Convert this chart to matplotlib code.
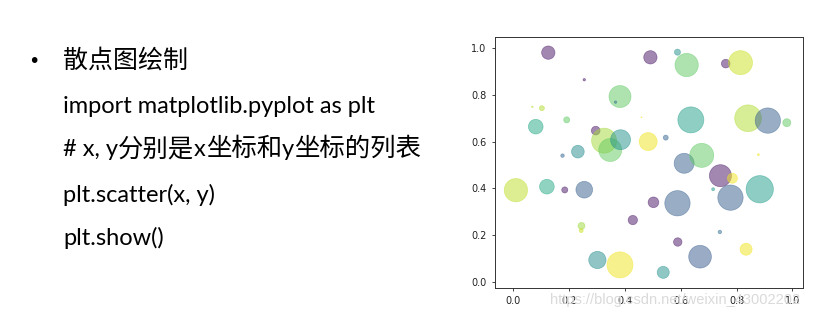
import matplotlib
matplotlib.use("Agg")
import matplotlib.pyplot as plt
import numpy as np

plt.rcParams['font.family'] = ['Noto Sans CJK SC', 'DejaVu Sans']

# ---- slide text ----
title_text = "散点图绘制"
code_lines = [
    "import matplotlib.pyplot as plt",
    "# x, y分别是x坐标和y坐标的列表",
    "plt.scatter(x, y)",
    "plt.show()",
]

# ---- scatter data ----
x_vals = [0.125, 0.254, 0.068, 0.102, 0.191, 0.080, 0.295, 0.176, 0.231, 0.325,
          0.347, 0.384, 0.382, 0.366, 0.491, 0.588, 0.621, 0.459, 0.636, 0.483,
          0.546, 0.612, 0.675, 0.761, 0.814, 0.841, 0.912, 0.980, 0.878, 0.009,
          0.120, 0.184, 0.254, 0.244, 0.243, 0.301, 0.382, 0.428, 0.502, 0.588,
          0.589, 0.537, 0.669, 0.742, 0.785, 0.716, 0.778, 0.883, 0.740, 0.834]
y_vals = [0.981, 0.865, 0.749, 0.743, 0.693, 0.664, 0.647, 0.540, 0.557, 0.604,
          0.564, 0.608, 0.793, 0.769, 0.961, 0.983, 0.928, 0.704, 0.693, 0.600,
          0.617, 0.507, 0.541, 0.934, 0.938, 0.700, 0.690, 0.681, 0.544, 0.392,
          0.407, 0.393, 0.394, 0.239, 0.219, 0.093, 0.072, 0.264, 0.340, 0.336,
          0.170, 0.040, 0.107, 0.454, 0.443, 0.396, 0.360, 0.396, 0.213, 0.139]
color_vals = [0.05, 0.05, 0.88, 0.88, 0.75, 0.60, 0.05, 0.32, 0.48, 0.86,
              0.76, 0.50, 0.75, 0.35, 0.05, 0.50, 0.75, 0.98, 0.56, 0.98,
              0.32, 0.30, 0.75, 0.05, 0.92, 0.88, 0.30, 0.75, 0.98, 0.90,
              0.60, 0.05, 0.30, 0.85, 0.92, 0.48, 0.98, 0.05, 0.05, 0.30,
              0.05, 0.50, 0.28, 0.05, 0.98, 0.55, 0.30, 0.55, 0.35, 0.98]
area_vals = [92, 3.2, 1.2, 13, 19, 112, 39, 6.4, 84, 324,
             274, 207, 251, 3.2, 92, 19, 281, 0.5, 350, 168,
             13, 207, 299, 39, 299, 370, 332, 33, 2.1, 281,
             112, 19, 145, 25, 8.3, 155, 350, 45, 59, 332,
             37, 75, 267, 251, 52, 4.7, 332, 386, 6.4, 75]

xticks = [0.0, 0.2, 0.4, 0.6, 0.8, 1.0]
yticks = [0.0, 0.2, 0.4, 0.6, 0.8, 1.0]

W, H = 831, 322
fig = plt.figure(figsize=(W / 100, H / 100), dpi=100)
fig.patch.set_facecolor('white')
renderer = fig.canvas.get_renderer()

LATIN = ['Lato', 'DejaVu Sans']
CJK = ['Noto Sans CJK SC', 'DejaVu Sans']


def is_cjk(ch):
    return '\u4e00' <= ch <= '\u9fff'


def runs(s):
    out = []
    for ch in s:
        kind = is_cjk(ch)
        if out and out[-1][1] == kind:
            out[-1][0] += ch
        else:
            out.append([ch, kind])
    return out


def draw_line(s, x_px, base_px, latin_size, cjk_size):
    x = x_px
    for seg, kind in runs(s):
        t = fig.text(x / W, 1 - base_px / H, seg,
                     fontsize=cjk_size if kind else latin_size,
                     family=CJK if kind else LATIN,
                     va='baseline', ha='left', color='black')
        bb = t.get_window_extent(renderer)
        x = bb.x1


# bullet and title
fig.text(28 / W, 1 - 67 / H, "•", fontsize=14, va='baseline', ha='left',
         color='black', family=['DejaVu Sans'])
draw_line(title_text, 63, 68, 17, 18)
baselines = [113, 156, 201.5, 245]
for line, b in zip(code_lines, baselines):
    draw_line(line, 63, b, 17, 18.3)

ax = fig.add_axes([495 / W, 1 - 288 / H, 308 / W, 251 / H])
ax.scatter(x_vals, y_vals, s=area_vals, c=color_vals, cmap='viridis',
           vmin=0, vmax=1, alpha=0.5, linewidths=0.5)
ax.set_xlim(-0.066, 1.038)
ax.set_ylim(-0.027, 1.048)
ax.set_xticks(xticks)
ax.set_yticks(yticks)
ax.set_xticklabels([f"{t:.1f}" for t in xticks])
ax.set_yticklabels([f"{t:.1f}" for t in yticks])
ax.tick_params(labelsize=7, length=2.5, width=0.6, pad=3.5, colors='#222222')
for lab in ax.get_xticklabels() + ax.get_yticklabels():
    lab.set_family(['DejaVu Sans'])
for sp in ax.spines.values():
    sp.set_linewidth(0.7)
    sp.set_color('#333333')

# watermark
fig.text(550 / W, 1 - 300 / H, "https://blog.csdn.net/weixin_43002202",
         fontsize=10.5, color='#dadada', va='center', ha='left',
         family=['Liberation Sans', 'DejaVu Sans'])

fig.savefig("out.png", dpi=100, facecolor='white')
